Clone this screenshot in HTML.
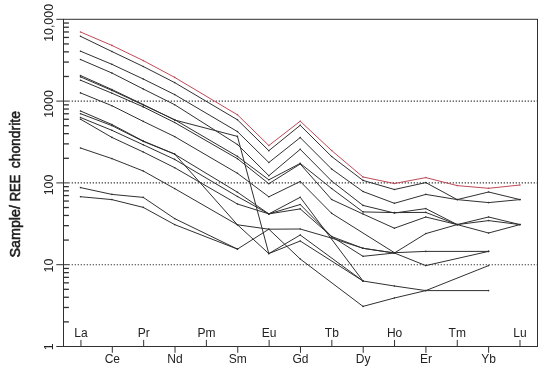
<!DOCTYPE html><html><head><meta charset="utf-8"><title>REE chondrite plot</title>
<style>html,body{margin:0;padding:0;background:#fff;}svg{display:block;}text{font-family:"Liberation Sans",sans-serif;fill:#222;}</style></head><body>
<svg width="550" height="371" viewBox="0 0 550 371">
<rect width="550" height="371" fill="#fff"/>
<line x1="71.7" y1="264.70" x2="537.5" y2="264.70" stroke="#2a2a2a" stroke-width="1.1" stroke-dasharray="1.2 1.8"/>
<line x1="63.5" y1="264.70" x2="69.8" y2="264.70" stroke="#303030" stroke-width="1"/>
<line x1="71.7" y1="182.90" x2="537.5" y2="182.90" stroke="#2a2a2a" stroke-width="1.1" stroke-dasharray="1.2 1.8"/>
<line x1="63.5" y1="182.90" x2="69.8" y2="182.90" stroke="#303030" stroke-width="1"/>
<line x1="71.7" y1="101.10" x2="537.5" y2="101.10" stroke="#2a2a2a" stroke-width="1.1" stroke-dasharray="1.2 1.8"/>
<line x1="63.5" y1="101.10" x2="69.8" y2="101.10" stroke="#303030" stroke-width="1"/>
<rect x="63.5" y="19.3" width="474.0" height="327.2" fill="none" stroke="#303030" stroke-width="1"/>
<line x1="56.3" y1="346.50" x2="63.5" y2="346.50" stroke="#303030" stroke-width="1"/>
<line x1="63.5" y1="321.88" x2="68.9" y2="321.88" stroke="#303030" stroke-width="1.3"/>
<line x1="63.5" y1="307.47" x2="68.9" y2="307.47" stroke="#303030" stroke-width="1.3"/>
<line x1="63.5" y1="297.25" x2="68.9" y2="297.25" stroke="#303030" stroke-width="1.3"/>
<line x1="63.5" y1="289.32" x2="68.9" y2="289.32" stroke="#303030" stroke-width="1.3"/>
<line x1="63.5" y1="282.85" x2="68.9" y2="282.85" stroke="#303030" stroke-width="1.3"/>
<line x1="63.5" y1="277.37" x2="68.9" y2="277.37" stroke="#303030" stroke-width="1.3"/>
<line x1="63.5" y1="272.63" x2="68.9" y2="272.63" stroke="#303030" stroke-width="1.3"/>
<line x1="63.5" y1="268.44" x2="68.9" y2="268.44" stroke="#303030" stroke-width="1.3"/>
<line x1="56.3" y1="264.70" x2="63.5" y2="264.70" stroke="#303030" stroke-width="1"/>
<line x1="63.5" y1="240.08" x2="68.9" y2="240.08" stroke="#303030" stroke-width="1.3"/>
<line x1="63.5" y1="225.67" x2="68.9" y2="225.67" stroke="#303030" stroke-width="1.3"/>
<line x1="63.5" y1="215.45" x2="68.9" y2="215.45" stroke="#303030" stroke-width="1.3"/>
<line x1="63.5" y1="207.52" x2="68.9" y2="207.52" stroke="#303030" stroke-width="1.3"/>
<line x1="63.5" y1="201.05" x2="68.9" y2="201.05" stroke="#303030" stroke-width="1.3"/>
<line x1="63.5" y1="195.57" x2="68.9" y2="195.57" stroke="#303030" stroke-width="1.3"/>
<line x1="63.5" y1="190.83" x2="68.9" y2="190.83" stroke="#303030" stroke-width="1.3"/>
<line x1="63.5" y1="186.64" x2="68.9" y2="186.64" stroke="#303030" stroke-width="1.3"/>
<line x1="56.3" y1="182.90" x2="63.5" y2="182.90" stroke="#303030" stroke-width="1"/>
<line x1="63.5" y1="158.28" x2="68.9" y2="158.28" stroke="#303030" stroke-width="1.3"/>
<line x1="63.5" y1="143.87" x2="68.9" y2="143.87" stroke="#303030" stroke-width="1.3"/>
<line x1="63.5" y1="133.65" x2="68.9" y2="133.65" stroke="#303030" stroke-width="1.3"/>
<line x1="63.5" y1="125.72" x2="68.9" y2="125.72" stroke="#303030" stroke-width="1.3"/>
<line x1="63.5" y1="119.25" x2="68.9" y2="119.25" stroke="#303030" stroke-width="1.3"/>
<line x1="63.5" y1="113.77" x2="68.9" y2="113.77" stroke="#303030" stroke-width="1.3"/>
<line x1="63.5" y1="109.03" x2="68.9" y2="109.03" stroke="#303030" stroke-width="1.3"/>
<line x1="63.5" y1="104.84" x2="68.9" y2="104.84" stroke="#303030" stroke-width="1.3"/>
<line x1="56.3" y1="101.10" x2="63.5" y2="101.10" stroke="#303030" stroke-width="1"/>
<line x1="63.5" y1="76.48" x2="68.9" y2="76.48" stroke="#303030" stroke-width="1.3"/>
<line x1="63.5" y1="62.07" x2="68.9" y2="62.07" stroke="#303030" stroke-width="1.3"/>
<line x1="63.5" y1="51.85" x2="68.9" y2="51.85" stroke="#303030" stroke-width="1.3"/>
<line x1="63.5" y1="43.92" x2="68.9" y2="43.92" stroke="#303030" stroke-width="1.3"/>
<line x1="63.5" y1="37.45" x2="68.9" y2="37.45" stroke="#303030" stroke-width="1.3"/>
<line x1="63.5" y1="31.97" x2="68.9" y2="31.97" stroke="#303030" stroke-width="1.3"/>
<line x1="63.5" y1="27.23" x2="68.9" y2="27.23" stroke="#303030" stroke-width="1.3"/>
<line x1="63.5" y1="23.04" x2="68.9" y2="23.04" stroke="#303030" stroke-width="1.3"/>
<line x1="56.3" y1="19.30" x2="63.5" y2="19.30" stroke="#303030" stroke-width="1"/>
<text transform="translate(53.3,22.9) scale(1.08,1) rotate(-90)" text-anchor="middle" font-size="12.4">10,000</text>
<text transform="translate(53.3,104.0) scale(1.08,1) rotate(-90)" text-anchor="middle" font-size="12.4">1000</text>
<text transform="translate(53.3,185.0) scale(1.08,1) rotate(-90)" text-anchor="middle" font-size="12.4">100</text>
<text transform="translate(53.3,265.5) scale(1.08,1) rotate(-90)" text-anchor="middle" font-size="12.4">10</text>
<text transform="translate(53.3,346.9) scale(1.08,1) rotate(-90)" text-anchor="middle" font-size="12.4">1</text>
<text transform="translate(19.8,231.3) scale(1.1,1) rotate(-90)" text-anchor="middle" font-size="13.3" fill="#1a1a1a" stroke="#1a1a1a" stroke-width="0.5" textLength="52.5" lengthAdjust="spacingAndGlyphs">Sample/</text>
<text transform="translate(19.8,188.0) scale(1.1,1) rotate(-90)" text-anchor="middle" font-size="13.3" fill="#1a1a1a" stroke="#1a1a1a" stroke-width="0.5" textLength="26.7" lengthAdjust="spacingAndGlyphs">REE</text>
<text transform="translate(19.8,139.7) scale(1.1,1) rotate(-90)" text-anchor="middle" font-size="13.3" fill="#1a1a1a" stroke="#1a1a1a" stroke-width="0.5" textLength="57.2" lengthAdjust="spacingAndGlyphs">chondrite</text>
<line x1="80.95" y1="339.9" x2="80.95" y2="346.5" stroke="#303030" stroke-width="1"/>
<text x="80.95" y="336.8" text-anchor="middle" font-size="12">La</text>
<line x1="112.31" y1="346.5" x2="112.31" y2="352.8" stroke="#303030" stroke-width="1"/>
<text x="112.31" y="363" text-anchor="middle" font-size="12">Ce</text>
<line x1="143.67" y1="339.9" x2="143.67" y2="346.5" stroke="#303030" stroke-width="1"/>
<text x="143.67" y="336.8" text-anchor="middle" font-size="12">Pr</text>
<line x1="175.03" y1="346.5" x2="175.03" y2="352.8" stroke="#303030" stroke-width="1"/>
<text x="175.03" y="363" text-anchor="middle" font-size="12">Nd</text>
<line x1="206.39" y1="339.9" x2="206.39" y2="346.5" stroke="#303030" stroke-width="1"/>
<text x="206.39" y="336.8" text-anchor="middle" font-size="12">Pm</text>
<line x1="237.75" y1="346.5" x2="237.75" y2="352.8" stroke="#303030" stroke-width="1"/>
<text x="237.75" y="363" text-anchor="middle" font-size="12">Sm</text>
<line x1="269.11" y1="339.9" x2="269.11" y2="346.5" stroke="#303030" stroke-width="1"/>
<text x="269.11" y="336.8" text-anchor="middle" font-size="12">Eu</text>
<line x1="300.47" y1="346.5" x2="300.47" y2="352.8" stroke="#303030" stroke-width="1"/>
<text x="300.47" y="363" text-anchor="middle" font-size="12">Gd</text>
<line x1="331.83" y1="339.9" x2="331.83" y2="346.5" stroke="#303030" stroke-width="1"/>
<text x="331.83" y="336.8" text-anchor="middle" font-size="12">Tb</text>
<line x1="363.19" y1="346.5" x2="363.19" y2="352.8" stroke="#303030" stroke-width="1"/>
<text x="363.19" y="363" text-anchor="middle" font-size="12">Dy</text>
<line x1="394.55" y1="339.9" x2="394.55" y2="346.5" stroke="#303030" stroke-width="1"/>
<text x="394.55" y="336.8" text-anchor="middle" font-size="12">Ho</text>
<line x1="425.91" y1="346.5" x2="425.91" y2="352.8" stroke="#303030" stroke-width="1"/>
<text x="425.91" y="363" text-anchor="middle" font-size="12">Er</text>
<line x1="457.27" y1="339.9" x2="457.27" y2="346.5" stroke="#303030" stroke-width="1"/>
<text x="457.27" y="336.8" text-anchor="middle" font-size="12">Tm</text>
<line x1="488.63" y1="346.5" x2="488.63" y2="352.8" stroke="#303030" stroke-width="1"/>
<text x="488.63" y="363" text-anchor="middle" font-size="12">Yb</text>
<line x1="519.99" y1="339.9" x2="519.99" y2="346.5" stroke="#303030" stroke-width="1"/>
<text x="519.99" y="336.8" text-anchor="middle" font-size="12">Lu</text>
<polyline points="80.50,32.00 111.89,45.40 143.28,60.60 174.67,77.40 237.45,114.80 268.84,145.50 300.23,121.20 331.62,150.50 363.01,177.00 394.40,183.50 425.79,177.60 457.18,185.60 488.57,188.30 519.96,185.00" fill="none" stroke="#bf4a58" stroke-width="1" stroke-linejoin="round"/>
<circle cx="80.50" cy="32.00" r="0.8" fill="#bf4a58"/>
<circle cx="111.89" cy="45.40" r="0.8" fill="#bf4a58"/>
<circle cx="143.28" cy="60.60" r="0.8" fill="#bf4a58"/>
<circle cx="174.67" cy="77.40" r="0.8" fill="#bf4a58"/>
<circle cx="237.45" cy="114.80" r="0.8" fill="#bf4a58"/>
<circle cx="268.84" cy="145.50" r="0.8" fill="#bf4a58"/>
<circle cx="300.23" cy="121.20" r="0.8" fill="#bf4a58"/>
<circle cx="331.62" cy="150.50" r="0.8" fill="#bf4a58"/>
<circle cx="363.01" cy="177.00" r="0.8" fill="#bf4a58"/>
<circle cx="394.40" cy="183.50" r="0.8" fill="#bf4a58"/>
<circle cx="425.79" cy="177.60" r="0.8" fill="#bf4a58"/>
<circle cx="457.18" cy="185.60" r="0.8" fill="#bf4a58"/>
<circle cx="488.57" cy="188.30" r="0.8" fill="#bf4a58"/>
<circle cx="519.96" cy="185.00" r="0.8" fill="#bf4a58"/>
<polyline points="80.50,36.30 111.89,51.50 143.28,66.50 174.67,82.60 237.45,119.80 268.84,150.70 300.23,125.30 331.62,156.50 363.01,180.40 394.40,189.50 425.79,182.60 457.18,199.60 488.57,192.00 519.96,199.60" fill="none" stroke="#303030" stroke-width="1" stroke-linejoin="round"/>
<circle cx="80.50" cy="36.30" r="0.8" fill="#303030"/>
<circle cx="111.89" cy="51.50" r="0.8" fill="#303030"/>
<circle cx="143.28" cy="66.50" r="0.8" fill="#303030"/>
<circle cx="174.67" cy="82.60" r="0.8" fill="#303030"/>
<circle cx="237.45" cy="119.80" r="0.8" fill="#303030"/>
<circle cx="268.84" cy="150.70" r="0.8" fill="#303030"/>
<circle cx="300.23" cy="125.30" r="0.8" fill="#303030"/>
<circle cx="331.62" cy="156.50" r="0.8" fill="#303030"/>
<circle cx="363.01" cy="180.40" r="0.8" fill="#303030"/>
<circle cx="394.40" cy="189.50" r="0.8" fill="#303030"/>
<circle cx="425.79" cy="182.60" r="0.8" fill="#303030"/>
<circle cx="457.18" cy="199.60" r="0.8" fill="#303030"/>
<circle cx="488.57" cy="192.00" r="0.8" fill="#303030"/>
<circle cx="519.96" cy="199.60" r="0.8" fill="#303030"/>
<polyline points="80.50,51.20 111.89,64.30 143.28,79.00 174.67,94.60 237.45,131.60 268.84,162.50 300.23,137.60 331.62,169.00 363.01,191.50 394.40,203.30 425.79,194.40 457.18,199.60 488.57,202.60 519.96,199.60" fill="none" stroke="#303030" stroke-width="1" stroke-linejoin="round"/>
<circle cx="80.50" cy="51.20" r="0.8" fill="#303030"/>
<circle cx="111.89" cy="64.30" r="0.8" fill="#303030"/>
<circle cx="143.28" cy="79.00" r="0.8" fill="#303030"/>
<circle cx="174.67" cy="94.60" r="0.8" fill="#303030"/>
<circle cx="237.45" cy="131.60" r="0.8" fill="#303030"/>
<circle cx="268.84" cy="162.50" r="0.8" fill="#303030"/>
<circle cx="300.23" cy="137.60" r="0.8" fill="#303030"/>
<circle cx="331.62" cy="169.00" r="0.8" fill="#303030"/>
<circle cx="363.01" cy="191.50" r="0.8" fill="#303030"/>
<circle cx="394.40" cy="203.30" r="0.8" fill="#303030"/>
<circle cx="425.79" cy="194.40" r="0.8" fill="#303030"/>
<circle cx="457.18" cy="199.60" r="0.8" fill="#303030"/>
<circle cx="488.57" cy="202.60" r="0.8" fill="#303030"/>
<circle cx="519.96" cy="199.60" r="0.8" fill="#303030"/>
<polyline points="80.50,59.50 111.89,73.00 143.28,89.00 174.67,104.70 237.45,144.50 268.84,175.70 300.23,149.30 331.62,181.00 363.01,205.40 394.40,213.00 425.79,208.60 457.18,224.60 488.57,217.00 519.96,224.60" fill="none" stroke="#303030" stroke-width="1" stroke-linejoin="round"/>
<circle cx="80.50" cy="59.50" r="0.8" fill="#303030"/>
<circle cx="111.89" cy="73.00" r="0.8" fill="#303030"/>
<circle cx="143.28" cy="89.00" r="0.8" fill="#303030"/>
<circle cx="174.67" cy="104.70" r="0.8" fill="#303030"/>
<circle cx="237.45" cy="144.50" r="0.8" fill="#303030"/>
<circle cx="268.84" cy="175.70" r="0.8" fill="#303030"/>
<circle cx="300.23" cy="149.30" r="0.8" fill="#303030"/>
<circle cx="331.62" cy="181.00" r="0.8" fill="#303030"/>
<circle cx="363.01" cy="205.40" r="0.8" fill="#303030"/>
<circle cx="394.40" cy="213.00" r="0.8" fill="#303030"/>
<circle cx="425.79" cy="208.60" r="0.8" fill="#303030"/>
<circle cx="457.18" cy="224.60" r="0.8" fill="#303030"/>
<circle cx="488.57" cy="217.00" r="0.8" fill="#303030"/>
<circle cx="519.96" cy="224.60" r="0.8" fill="#303030"/>
<polyline points="80.50,75.50 111.89,89.50 143.28,104.50 174.67,120.00 237.45,136.40 268.84,253.60 300.23,235.00 363.01,281.00" fill="none" stroke="#303030" stroke-width="1" stroke-linejoin="round"/>
<circle cx="80.50" cy="75.50" r="0.8" fill="#303030"/>
<circle cx="111.89" cy="89.50" r="0.8" fill="#303030"/>
<circle cx="143.28" cy="104.50" r="0.8" fill="#303030"/>
<circle cx="174.67" cy="120.00" r="0.8" fill="#303030"/>
<circle cx="237.45" cy="136.40" r="0.8" fill="#303030"/>
<circle cx="268.84" cy="253.60" r="0.8" fill="#303030"/>
<circle cx="300.23" cy="235.00" r="0.8" fill="#303030"/>
<circle cx="363.01" cy="281.00" r="0.8" fill="#303030"/>
<polyline points="80.50,76.90 111.89,90.40 143.28,105.00 174.67,119.70 237.45,156.40 268.84,179.80 300.23,163.40 331.62,188.50 363.01,211.90 394.40,212.60 425.79,212.40 457.18,224.60 488.57,220.60 519.96,224.60" fill="none" stroke="#303030" stroke-width="1" stroke-linejoin="round"/>
<circle cx="80.50" cy="76.90" r="0.8" fill="#303030"/>
<circle cx="111.89" cy="90.40" r="0.8" fill="#303030"/>
<circle cx="143.28" cy="105.00" r="0.8" fill="#303030"/>
<circle cx="174.67" cy="119.70" r="0.8" fill="#303030"/>
<circle cx="237.45" cy="156.40" r="0.8" fill="#303030"/>
<circle cx="268.84" cy="179.80" r="0.8" fill="#303030"/>
<circle cx="300.23" cy="163.40" r="0.8" fill="#303030"/>
<circle cx="331.62" cy="188.50" r="0.8" fill="#303030"/>
<circle cx="363.01" cy="211.90" r="0.8" fill="#303030"/>
<circle cx="394.40" cy="212.60" r="0.8" fill="#303030"/>
<circle cx="425.79" cy="212.40" r="0.8" fill="#303030"/>
<circle cx="457.18" cy="224.60" r="0.8" fill="#303030"/>
<circle cx="488.57" cy="220.60" r="0.8" fill="#303030"/>
<circle cx="519.96" cy="224.60" r="0.8" fill="#303030"/>
<polyline points="80.50,80.20 111.89,93.20 143.28,106.90 174.67,122.50 237.45,158.70 268.84,183.70 300.23,164.00 331.62,199.50 363.01,214.00 394.40,228.20 425.79,217.00 457.18,224.60 488.57,233.00 519.96,224.60" fill="none" stroke="#303030" stroke-width="1" stroke-linejoin="round"/>
<circle cx="80.50" cy="80.20" r="0.8" fill="#303030"/>
<circle cx="111.89" cy="93.20" r="0.8" fill="#303030"/>
<circle cx="143.28" cy="106.90" r="0.8" fill="#303030"/>
<circle cx="174.67" cy="122.50" r="0.8" fill="#303030"/>
<circle cx="237.45" cy="158.70" r="0.8" fill="#303030"/>
<circle cx="268.84" cy="183.70" r="0.8" fill="#303030"/>
<circle cx="300.23" cy="164.00" r="0.8" fill="#303030"/>
<circle cx="331.62" cy="199.50" r="0.8" fill="#303030"/>
<circle cx="363.01" cy="214.00" r="0.8" fill="#303030"/>
<circle cx="394.40" cy="228.20" r="0.8" fill="#303030"/>
<circle cx="425.79" cy="217.00" r="0.8" fill="#303030"/>
<circle cx="457.18" cy="224.60" r="0.8" fill="#303030"/>
<circle cx="488.57" cy="233.00" r="0.8" fill="#303030"/>
<circle cx="519.96" cy="224.60" r="0.8" fill="#303030"/>
<polyline points="80.50,92.90 111.89,105.70 143.28,121.40 174.67,136.60 237.45,173.30 268.84,196.80 300.23,181.50 331.62,213.30 394.40,252.70 425.79,251.40 488.57,251.40" fill="none" stroke="#303030" stroke-width="1" stroke-linejoin="round"/>
<circle cx="80.50" cy="92.90" r="0.8" fill="#303030"/>
<circle cx="111.89" cy="105.70" r="0.8" fill="#303030"/>
<circle cx="143.28" cy="121.40" r="0.8" fill="#303030"/>
<circle cx="174.67" cy="136.60" r="0.8" fill="#303030"/>
<circle cx="237.45" cy="173.30" r="0.8" fill="#303030"/>
<circle cx="268.84" cy="196.80" r="0.8" fill="#303030"/>
<circle cx="300.23" cy="181.50" r="0.8" fill="#303030"/>
<circle cx="331.62" cy="213.30" r="0.8" fill="#303030"/>
<circle cx="394.40" cy="252.70" r="0.8" fill="#303030"/>
<circle cx="425.79" cy="251.40" r="0.8" fill="#303030"/>
<circle cx="488.57" cy="251.40" r="0.8" fill="#303030"/>
<polyline points="80.50,111.00 111.89,124.50 143.28,141.00 174.67,154.00 237.45,224.80 268.84,253.60 300.23,241.00 363.01,281.00" fill="none" stroke="#303030" stroke-width="1" stroke-linejoin="round"/>
<circle cx="80.50" cy="111.00" r="0.8" fill="#303030"/>
<circle cx="111.89" cy="124.50" r="0.8" fill="#303030"/>
<circle cx="143.28" cy="141.00" r="0.8" fill="#303030"/>
<circle cx="174.67" cy="154.00" r="0.8" fill="#303030"/>
<circle cx="237.45" cy="224.80" r="0.8" fill="#303030"/>
<circle cx="268.84" cy="253.60" r="0.8" fill="#303030"/>
<circle cx="300.23" cy="241.00" r="0.8" fill="#303030"/>
<circle cx="363.01" cy="281.00" r="0.8" fill="#303030"/>
<polyline points="80.50,113.70 111.89,125.60 143.28,141.40 174.67,154.20 237.45,192.20 268.84,213.90 300.23,197.30 363.01,281.00 394.40,286.00 425.79,290.60 488.57,290.60" fill="none" stroke="#303030" stroke-width="1" stroke-linejoin="round"/>
<circle cx="80.50" cy="113.70" r="0.8" fill="#303030"/>
<circle cx="111.89" cy="125.60" r="0.8" fill="#303030"/>
<circle cx="143.28" cy="141.40" r="0.8" fill="#303030"/>
<circle cx="174.67" cy="154.20" r="0.8" fill="#303030"/>
<circle cx="237.45" cy="192.20" r="0.8" fill="#303030"/>
<circle cx="268.84" cy="213.90" r="0.8" fill="#303030"/>
<circle cx="300.23" cy="197.30" r="0.8" fill="#303030"/>
<circle cx="363.01" cy="281.00" r="0.8" fill="#303030"/>
<circle cx="394.40" cy="286.00" r="0.8" fill="#303030"/>
<circle cx="425.79" cy="290.60" r="0.8" fill="#303030"/>
<circle cx="488.57" cy="290.60" r="0.8" fill="#303030"/>
<polyline points="80.50,117.50 111.89,130.30 143.28,144.80 174.67,159.40 237.45,196.50 268.84,213.90 300.23,204.50 331.62,236.50 363.01,248.30 394.40,253.00 425.79,233.60 457.18,224.60" fill="none" stroke="#303030" stroke-width="1" stroke-linejoin="round"/>
<circle cx="80.50" cy="117.50" r="0.8" fill="#303030"/>
<circle cx="111.89" cy="130.30" r="0.8" fill="#303030"/>
<circle cx="143.28" cy="144.80" r="0.8" fill="#303030"/>
<circle cx="174.67" cy="159.40" r="0.8" fill="#303030"/>
<circle cx="237.45" cy="196.50" r="0.8" fill="#303030"/>
<circle cx="268.84" cy="213.90" r="0.8" fill="#303030"/>
<circle cx="300.23" cy="204.50" r="0.8" fill="#303030"/>
<circle cx="331.62" cy="236.50" r="0.8" fill="#303030"/>
<circle cx="363.01" cy="248.30" r="0.8" fill="#303030"/>
<circle cx="394.40" cy="253.00" r="0.8" fill="#303030"/>
<circle cx="425.79" cy="233.60" r="0.8" fill="#303030"/>
<circle cx="457.18" cy="224.60" r="0.8" fill="#303030"/>
<polyline points="80.50,119.20 111.89,137.40 143.28,152.00 174.67,167.70 237.45,204.00 268.84,213.90 300.23,208.90 331.62,236.50 363.01,256.30 394.40,253.00 425.79,265.60 488.57,251.40" fill="none" stroke="#303030" stroke-width="1" stroke-linejoin="round"/>
<circle cx="80.50" cy="119.20" r="0.8" fill="#303030"/>
<circle cx="111.89" cy="137.40" r="0.8" fill="#303030"/>
<circle cx="143.28" cy="152.00" r="0.8" fill="#303030"/>
<circle cx="174.67" cy="167.70" r="0.8" fill="#303030"/>
<circle cx="237.45" cy="204.00" r="0.8" fill="#303030"/>
<circle cx="268.84" cy="213.90" r="0.8" fill="#303030"/>
<circle cx="300.23" cy="208.90" r="0.8" fill="#303030"/>
<circle cx="331.62" cy="236.50" r="0.8" fill="#303030"/>
<circle cx="363.01" cy="256.30" r="0.8" fill="#303030"/>
<circle cx="394.40" cy="253.00" r="0.8" fill="#303030"/>
<circle cx="425.79" cy="265.60" r="0.8" fill="#303030"/>
<circle cx="488.57" cy="251.40" r="0.8" fill="#303030"/>
<polyline points="80.50,148.00 111.89,158.60 143.28,171.00 174.67,188.60 237.45,224.80 268.84,229.20 300.23,229.00 331.62,238.10 363.01,248.30 394.40,253.00" fill="none" stroke="#303030" stroke-width="1" stroke-linejoin="round"/>
<circle cx="80.50" cy="148.00" r="0.8" fill="#303030"/>
<circle cx="111.89" cy="158.60" r="0.8" fill="#303030"/>
<circle cx="143.28" cy="171.00" r="0.8" fill="#303030"/>
<circle cx="174.67" cy="188.60" r="0.8" fill="#303030"/>
<circle cx="237.45" cy="224.80" r="0.8" fill="#303030"/>
<circle cx="268.84" cy="229.20" r="0.8" fill="#303030"/>
<circle cx="300.23" cy="229.00" r="0.8" fill="#303030"/>
<circle cx="331.62" cy="238.10" r="0.8" fill="#303030"/>
<circle cx="363.01" cy="248.30" r="0.8" fill="#303030"/>
<circle cx="394.40" cy="253.00" r="0.8" fill="#303030"/>
<polyline points="80.50,187.60 111.89,194.40 143.28,197.40 174.67,218.60 237.45,249.10 268.84,229.20 300.23,259.00 363.01,306.40 394.40,298.00 425.79,290.60 488.57,265.60" fill="none" stroke="#303030" stroke-width="1" stroke-linejoin="round"/>
<circle cx="80.50" cy="187.60" r="0.8" fill="#303030"/>
<circle cx="111.89" cy="194.40" r="0.8" fill="#303030"/>
<circle cx="143.28" cy="197.40" r="0.8" fill="#303030"/>
<circle cx="174.67" cy="218.60" r="0.8" fill="#303030"/>
<circle cx="237.45" cy="249.10" r="0.8" fill="#303030"/>
<circle cx="268.84" cy="229.20" r="0.8" fill="#303030"/>
<circle cx="300.23" cy="259.00" r="0.8" fill="#303030"/>
<circle cx="363.01" cy="306.40" r="0.8" fill="#303030"/>
<circle cx="394.40" cy="298.00" r="0.8" fill="#303030"/>
<circle cx="425.79" cy="290.60" r="0.8" fill="#303030"/>
<circle cx="488.57" cy="265.60" r="0.8" fill="#303030"/>
<polyline points="80.50,196.70 111.89,199.60 143.28,207.40 174.67,224.60 237.45,249.10" fill="none" stroke="#303030" stroke-width="1" stroke-linejoin="round"/>
<circle cx="80.50" cy="196.70" r="0.8" fill="#303030"/>
<circle cx="111.89" cy="199.60" r="0.8" fill="#303030"/>
<circle cx="143.28" cy="207.40" r="0.8" fill="#303030"/>
<circle cx="174.67" cy="224.60" r="0.8" fill="#303030"/>
<circle cx="237.45" cy="249.10" r="0.8" fill="#303030"/>
</svg></body></html>
